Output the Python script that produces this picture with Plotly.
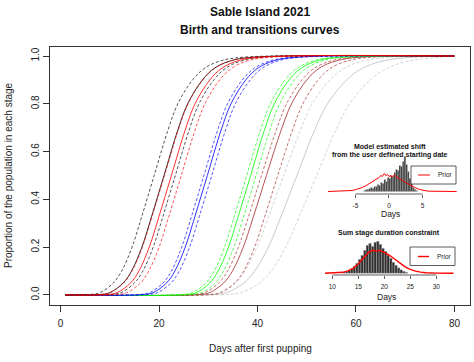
import plotly.graph_objects as go

W, H = 474, 362

# ---------------- main chart data ----------------
# cumulative proportion levels at which each curve's day position was read
LEVELS = [0.002, 0.01, 0.05, 0.1, 0.2, 0.33, 0.5, 0.69, 0.8, 0.9, 0.95, 0.98, 0.995]
X_START, X_END = 1, 80  # days range of the curves (0 before, 1 after)

black_lo  = [6.0, 8.0, 10.7, 12.4, 14.5, 16.5, 19.0, 21.8, 23.8, 26.8, 29.3, 32.5, 37.0]
black_mid = [8.0, 10.0, 12.7, 14.4, 16.5, 18.5, 21.0, 23.8, 25.8, 28.8, 31.3, 34.5, 39.0]
black_hi  = [10.3, 12.3, 15.0, 16.7, 18.8, 20.8, 23.3, 26.1, 28.1, 31.1, 33.6, 36.8, 41.3]
red_lo    = [8.1, 10.1, 12.8, 14.5, 16.6, 18.6, 21.1, 23.9, 25.9, 28.9, 31.4, 34.6, 39.1]
red_mid   = [9.5, 11.5, 14.2, 15.9, 18.0, 20.0, 22.5, 25.3, 27.3, 30.3, 32.8, 36.0, 40.5]
red_hi    = [11.5, 13.5, 16.2, 17.9, 20.0, 22.0, 24.5, 27.3, 29.3, 32.3, 34.8, 38.0, 42.5]
blue_lo   = [16.1, 18.1, 20.8, 22.5, 24.6, 26.6, 29.1, 31.9, 33.9, 36.9, 39.4, 42.6, 47.1]
blue_mid  = [16.8, 18.8, 21.5, 23.2, 25.3, 27.3, 29.8, 32.6, 34.6, 37.6, 40.1, 43.3, 47.8]
blue_hi   = [17.7, 19.7, 22.4, 24.1, 26.2, 28.2, 30.7, 33.5, 35.5, 38.5, 41.0, 44.2, 48.7]
green_lo  = [24.8, 26.8, 29.5, 31.2, 33.3, 35.3, 37.8, 40.6, 42.6, 45.6, 48.1, 51.3, 55.8]
green_mid = [25.6, 27.6, 30.3, 32.0, 34.1, 36.1, 38.6, 41.4, 43.4, 46.4, 48.9, 52.1, 56.6]
green_hi  = [26.7, 28.7, 31.4, 33.1, 35.2, 37.2, 39.7, 42.5, 44.5, 47.5, 50.0, 53.2, 57.7]
brown_lo  = [27.2, 29.3, 32.1, 33.9, 36.1, 38.2, 40.8, 43.8, 45.9, 49.0, 51.6, 55.0, 59.7]
brown_mid = [28.2, 30.3, 33.1, 34.9, 37.1, 39.2, 41.8, 44.8, 46.9, 50.0, 52.6, 56.0, 60.7]
brown_hi  = [30.5, 32.6, 35.4, 37.2, 39.4, 41.5, 44.1, 47.1, 49.2, 52.3, 54.9, 58.3, 63.0]
gray_lo   = [29.7, 32.1, 35.3, 37.4, 39.9, 42.3, 45.3, 48.7, 51.1, 54.7, 57.7, 61.5, 66.9]
gray_mid  = [31.1, 33.7, 37.2, 39.4, 42.2, 44.8, 48.0, 51.6, 54.2, 58.1, 61.4, 65.6, 71.4]
gray_hi   = [33.8, 36.6, 40.4, 42.8, 45.7, 48.5, 52.0, 55.9, 58.7, 62.9, 66.4, 70.9, 77.2]

x_ticks = [0, 20, 40, 60, 80]
y_ticks = [0, 0.2, 0.4, 0.6, 0.8, 1.0]
y_tick_labels = ["0.0", "0.2", "0.4", "0.6", "0.8", "1.0"]

# ---------------- inset 1: shift ----------------
shift_bins = [-3.625, -3.375, -3.125, -2.875, -2.625, -2.375, -2.125, -1.875, -1.625, -1.375,
              -1.125, -0.875, -0.625, -0.375, -0.125, 0.125, 0.375, 0.625, 0.875, 1.125,
              1.375, 1.625, 1.875, 2.125, 2.375, 2.625, 2.875, 3.125, 3.375, 3.625, 3.875, 4.125]
shift_counts = [1, 2, 2, 3, 4, 3, 5, 5, 7, 6,
                9, 8, 12, 10, 14, 13, 16, 15, 19, 22,
                21, 26, 25, 30, 35, 27, 20, 13, 8, 4, 2, 1]
prior1_x = [-9.1, -7, -6, -5.5, -5, -4.5, -4, -3.5, -3, -2.5, -2, -1.5, -1.2, -1, -0.7, -0.5,
            -0.2, 0, 0.3, 0.5, 0.8, 1, 1.3, 1.5, 2, 2.5, 3, 3.5, 4, 4.5, 5, 5.5, 6, 7, 10.1]
prior1_y = [0, 0.2, 0.6, 1, 1.8, 2.7, 4, 5.5, 7.5, 9.5, 12, 14, 16, 15, 18, 16,
            17, 15, 16, 14.5, 16.5, 15, 14, 13, 11, 9, 7, 5, 3.5, 2.2, 1.3, 0.7, 0.3, 0.1, 0]
shift_ticks = [-5, 0, 5]

# ---------------- inset 2: sum of stage durations ----------------
dur_bins = [12.25, 12.75, 13.25, 13.75, 14.25, 14.75, 15.25, 15.75, 16.25, 16.75, 17.25, 17.75,
            18.25, 18.75, 19.25, 19.75, 20.25, 20.75, 21.25, 21.75, 22.25, 22.75, 23.25, 23.75, 24.25]
dur_counts = [1, 1.5, 3, 4.5, 7, 10, 14, 18, 23, 28, 30, 27,
              31, 32, 29, 25, 22, 18, 15, 11, 8, 5.5, 3.5, 2, 1]
prior2_x = [8.6, 11, 12, 13, 14, 15, 16, 16.5, 17, 17.5, 18, 18.5, 19, 19.5, 20, 20.5,
            21, 21.5, 22, 23, 24, 25, 26, 27, 28, 30, 33.3]
prior2_y = [0, 0.3, 1, 2.5, 5, 9.5, 15, 18, 21, 22.5, 23, 22, 23, 22, 21, 19.5,
            18, 16, 14, 10, 6.5, 4, 2.2, 1.2, 0.6, 0.2, 0]
dur_ticks = [10, 15, 20, 25, 30]

FONT = "Liberation Sans, Arial, Helvetica, sans-serif"


def fx(p):
    return p / W


def fy(p):
    return 1 - p / H


fig = go.Figure()

curves = [
    (gray_lo, "#BEBEBE", "dash"), (gray_hi, "#BEBEBE", "dash"), (gray_mid, "#BEBEBE", "solid"),
    (brown_lo, "#A52A2A", "dash"), (brown_hi, "#A52A2A", "dash"), (brown_mid, "#A52A2A", "solid"),
    (green_lo, "#00FF00", "dash"), (green_hi, "#00FF00", "dash"), (green_mid, "#00FF00", "solid"),
    (blue_lo, "#0000FF", "dash"), (blue_hi, "#0000FF", "dash"), (blue_mid, "#0000FF", "solid"),
    (black_lo, "#000000", "dash"), (black_hi, "#000000", "dash"), (black_mid, "#000000", "solid"),
    (red_lo, "#FF0000", "dash"), (red_hi, "#FF0000", "dash"), (red_mid, "#FF0000", "solid"),
]
for xs, col, dash in curves:
    fig.add_trace(go.Scatter(
        x=[X_START] + xs + [X_END], y=[0] + LEVELS + [1], mode="lines",
        opacity=0.75 if dash == "dash" else 0.9,
        line=dict(color=col, width=0.9, dash="3px,2px" if dash == "dash" else "solid",
                  shape="spline", smoothing=1),
        xaxis="x", yaxis="y", showlegend=False, hoverinfo="skip"))

fig.add_trace(go.Bar(x=shift_bins, y=shift_counts, width=0.25,
                     marker=dict(color="#303030", line=dict(color="#c8c8c8", width=0.35)),
                     xaxis="x2", yaxis="y2", showlegend=False, hoverinfo="skip"))
fig.add_trace(go.Scatter(x=prior1_x, y=prior1_y, mode="lines", line=dict(color="#FF0000", width=1),
                         xaxis="x2", yaxis="y2", showlegend=False, hoverinfo="skip"))
fig.add_trace(go.Bar(x=dur_bins, y=dur_counts, width=0.5,
                     marker=dict(color="#303030", line=dict(color="#c8c8c8", width=0.35)),
                     xaxis="x3", yaxis="y3", showlegend=False, hoverinfo="skip"))
fig.add_trace(go.Scatter(x=prior2_x, y=prior2_y, mode="lines", line=dict(color="#FF0000", width=1.4),
                         xaxis="x3", yaxis="y3", showlegend=False, hoverinfo="skip"))

axis_col = "#333333"
fig.update_layout(
    width=W, height=H,
    margin=dict(l=0, r=0, t=0, b=0, autoexpand=False),
    paper_bgcolor="white", plot_bgcolor="rgba(0,0,0,0)",
    font=dict(family=FONT, color="#222222", size=10),
    bargap=0,
    xaxis=dict(domain=[fx(50), fx(470)], range=[-2.16, 83.16], anchor="y",
               tickvals=x_ticks, ticks="outside", ticklen=6, tickwidth=1, tickcolor=axis_col,
               showline=True, mirror=True, linecolor=axis_col, linewidth=1,
               showgrid=False, zeroline=False, tickfont=dict(size=10), ticklabelstandoff=3),
    yaxis=dict(domain=[fy(304.5), fy(46.5)], range=[-0.04, 1.04], anchor="x",
               tickvals=y_ticks, ticktext=y_tick_labels, tickangle=-90,
               ticks="outside", ticklen=6, tickwidth=1, tickcolor=axis_col,
               showline=True, mirror=True, linecolor=axis_col, linewidth=1,
               showgrid=False, zeroline=False, tickfont=dict(size=10), ticklabelstandoff=0),
    xaxis2=dict(domain=[fx(325), fx(460)], range=[-9.55, 10.6], anchor="y2",
                tickvals=shift_ticks, ticktext=["-5", "0", "5"], ticks="outside", ticklen=3,
                tickwidth=0.8, tickcolor=axis_col, showline=False, showgrid=False,
                zeroline=False, tickfont=dict(size=6.5), ticklabelstandoff=2),
    yaxis2=dict(domain=[fy(194), fy(154)], range=[-2.5, 37.5], anchor="x2", visible=False),
    xaxis3=dict(domain=[fx(322), fx(458)], range=[8.02, 34.17], anchor="y3",
                tickvals=dur_ticks, ticks="outside", ticklen=3,
                tickwidth=0.8, tickcolor=axis_col, showline=False, showgrid=False,
                zeroline=False, tickfont=dict(size=6.5), ticklabelstandoff=2),
    yaxis3=dict(domain=[fy(275), fy(238)], range=[-1.7, 35.3], anchor="x3", visible=False),
)

shapes = [
    dict(type="line", xref="x2", yref="y2 domain", x0=shift_ticks[0], x1=shift_ticks[-1], y0=0, y1=0,
         line=dict(color=axis_col, width=0.8)),
    dict(type="line", xref="x3", yref="y3 domain", x0=dur_ticks[0], x1=dur_ticks[-1], y0=0, y1=0,
         line=dict(color=axis_col, width=0.8)),
    # legend boxes
    dict(type="rect", xref="paper", yref="paper", x0=fx(411), x1=fx(456), y0=fy(184), y1=fy(166),
         fillcolor="white", line=dict(color="#333333", width=0.8)),
    dict(type="line", xref="paper", yref="paper", x0=fx(418), x1=fx(430), y0=fy(175), y1=fy(175),
         line=dict(color="#FF0000", width=1)),
    dict(type="rect", xref="paper", yref="paper", x0=fx(410), x1=fx(455), y0=fy(265.5), y1=fy(247),
         fillcolor="white", line=dict(color="#333333", width=0.8)),
    dict(type="line", xref="paper", yref="paper", x0=fx(418), x1=fx(429), y0=fy(256.5), y1=fy(256.5),
         line=dict(color="#FF0000", width=1.4)),
]
fig.update_layout(shapes=shapes)


def ann(text, x, y, size, bold=False, angle=0, color="#111111"):
    fig.add_annotation(text=f"<b>{text}</b>" if bold else text, x=fx(x), y=fy(y),
                       xref="paper", yref="paper", showarrow=False, textangle=angle,
                       font=dict(size=size, color=color, family=FONT),
                       xanchor="center", yanchor="middle")


ann("Sable Island 2021", 260, 12, 12, bold=True)
ann("Birth and transitions curves", 260, 30, 12, bold=True)
ann("Days after first pupping", 260, 348, 10, color="#222222")
ann("Proportion of the population in each stage", 9, 175, 10, angle=-90, color="#222222")
ann("Model estimated shift", 390, 146.5, 7, bold=True)
ann("from the user defined starting date", 390, 155.5, 7, bold=True)
ann("Days", 390, 214, 8.5, color="#222222")
ann("Sum stage duration constraint", 389, 232.7, 7, bold=True)
ann("Days", 386, 296.7, 8.5, color="#222222")
ann("Prior", 445, 175, 6.5, color="#222222")
ann("Prior", 444.5, 256.5, 6.5, color="#222222")

fig.write_html("out.html", config={"displayModeBar": False, "staticPlot": True},
               post_script="document.body.style.margin='0';document.body.style.overflow='hidden';")
